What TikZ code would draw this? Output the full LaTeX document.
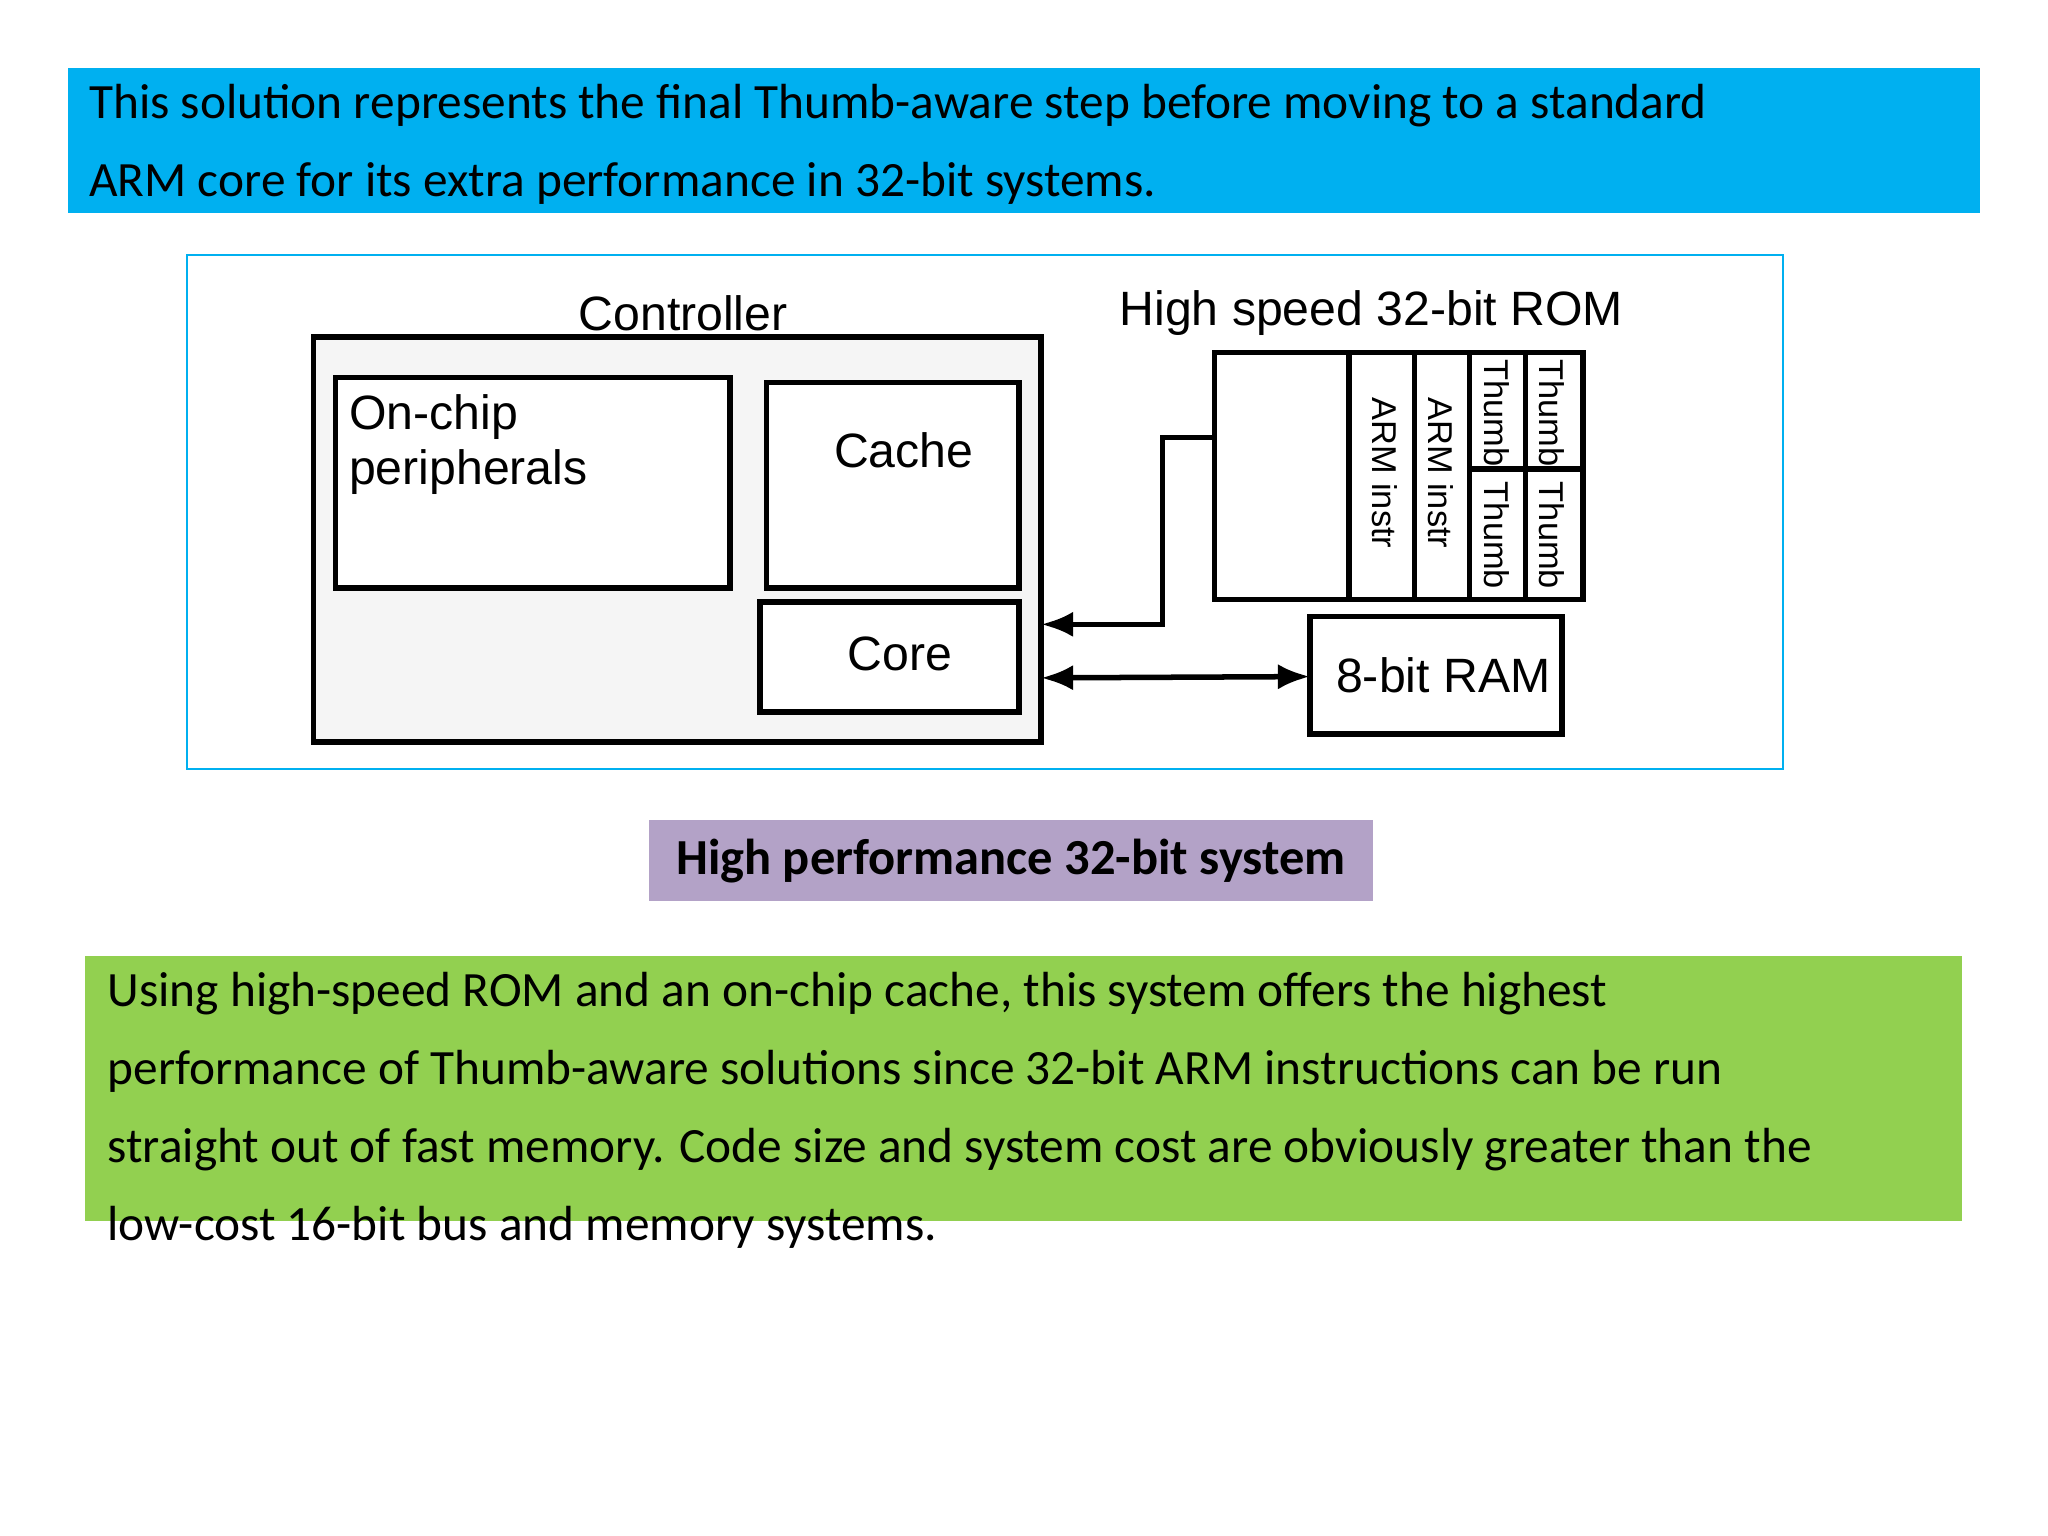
\documentclass[tikz,border=0pt]{standalone}
\usepackage{fontspec}
\setmainfont{Carlito}
\newfontfamily\arial{Liberation Sans}
\usetikzlibrary{positioning,arrows.meta}
\definecolor{bandblue}{HTML}{00B0F0}
\definecolor{bandgreen}{HTML}{92D050}
\definecolor{bandpurple}{HTML}{B3A2C7}
\begin{document}
\begin{tikzpicture}[x=0.02cm,y=-0.02cm]
\tikzset{blk/.style={draw,line width=2.4pt},
  lbl/.style={font=\arial\fontsize{21}{24}\selectfont,inner sep=0pt},
  rot/.style={font=\arial\fontsize{15}{17}\selectfont,rotate=-90,inner sep=0pt},
  band/.style={font=\fontsize{21.5}{34}\selectfont,align=left,anchor=north west,inner sep=0pt}}
\useasboundingbox (0,0) rectangle (1568,1176);
% top band
\fill[bandblue] (52,52) rectangle (1516,163);
\node[band] (top) at (68,64) {This solution represents the final Thumb-aware step before moving to a standard\\ARM core for its extra performance in 32-bit systems.};
% frame
\draw[bandblue,line width=0.8pt] (143,195) rectangle (1365,589);
% controller
\draw[blk,fill=black!4] (240,258) rectangle (797,568);
\node[lbl] (ctl) at (523,240) {Controller};
\draw[blk,fill=white] (257,289) rectangle (559,450);
\node[lbl,align=left,anchor=north west] (onchip) at (267,302) {On-chip\\peripherals};
\draw[blk,fill=white] (587,293) rectangle (780,450);
\node[lbl] (cache) at (692,345) {Cache};
\draw[blk,fill=white] (582,461) rectangle (780,545);
\node[lbl] (core) at (689,501) {Core};
% ROM
\node[lbl] (romlbl) at (1050,240) {High speed 32-bit ROM};
\draw[blk,fill=white] (930,270) rectangle (1212,459);
\foreach \xx in {1033,1083,1125,1168} \draw[blk] (\xx,270) -- (\xx,459);
\draw[blk] (1125,359) -- (1212,359);
\node[rot] (arm1) at (1060,362) {ARM instr};
\node[rot] (arm2) at (1103,362) {ARM instr};
\node[rot] (th1) at (1146,316) {Thumb};
\node[rot] (th2) at (1188,316) {Thumb};
\node[rot] (th3) at (1146,410) {Thumb};
\node[rot] (th4) at (1188,410) {Thumb};
% RAM
\draw[blk,fill=white] (1003,472) rectangle (1196,562);
\node[lbl] (ram) at (1105,517) {8-bit RAM};
\coordinate (romout) at (930,335);
\coordinate (ctlin) at (797,478);
\coordinate (ctlbus) at (797,519);
\coordinate (ramin) at (1003,518);
\draw[blk,-{Latex[length=14pt,width=11pt]}] (romout) -- (890,335) -- (890,478) -- (ctlin);
\draw[blk,{Latex[length=14pt,width=11pt]}-{Latex[length=14pt,width=11pt]}] (ctlbus) -- (ramin);
% caption
\node[fill=bandpurple,minimum width=554*0.02cm,minimum height=62*0.02cm,font=\bfseries\fontsize{22}{26}\selectfont] (cap) at (774,659) {High performance 32-bit system};
% bottom band
\fill[bandgreen] (65,732) rectangle (1502,935);
\node[band] (bot) at (82,744) {Using high-speed ROM and an on-chip cache, this system offers the highest\\performance of Thumb-aware solutions since 32-bit ARM instructions can be run\\straight out of fast memory. Code size and system cost are obviously greater than the\\low-cost 16-bit bus and memory systems.};
\end{tikzpicture}
\end{document}
